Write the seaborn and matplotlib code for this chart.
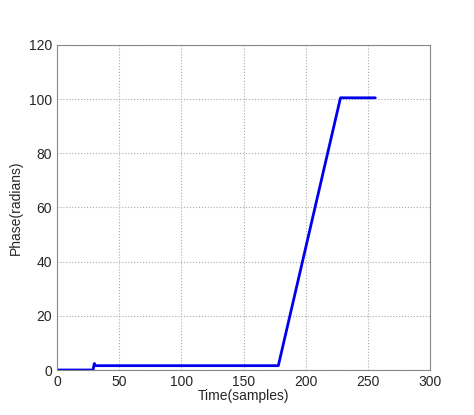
import matplotlib
matplotlib.use("Agg")
import matplotlib.pyplot as plt
import seaborn as sns
import pandas as pd

time_samples = [0, 29, 30, 31, 178, 228, 256]
phase_rad = [0, 0, 2.4, 1.6, 1.6, 100.5, 100.5]
x_ticks = [0, 50, 100, 150, 200, 250, 300]
y_ticks = [0, 20, 40, 60, 80, 100, 120]

sns.set_style("white")
plt.rcParams['font.family'] = ['Liberation Sans', 'DejaVu Sans']
df = pd.DataFrame({"t": time_samples, "p": phase_rad})

fig = plt.figure(figsize=(4.74, 4.15), dpi=100)
ax = fig.add_axes([57/474, (415-370)/415, (430-57)/474, (370-45)/415])
sns.lineplot(data=df, x="t", y="p", ax=ax, color="#0000ee", linewidth=2)
ax.set_xlim(0, 300)
ax.set_ylim(0, 120)
ax.set_xticks(x_ticks)
ax.set_yticks(y_ticks)
ax.grid(True, linestyle=":", color="#aaaaaa", linewidth=0.8)
for s in ax.spines.values():
    s.set_color("#888888")
    s.set_linewidth(0.8)
ax.tick_params(labelsize=10, direction="in", length=3, color="#888888")
ax.set_xlabel("Time(samples)", fontsize=10, labelpad=0)
ax.set_ylabel("Phase(radians)", fontsize=10, labelpad=4)
fig.savefig("out.png", dpi=100)
